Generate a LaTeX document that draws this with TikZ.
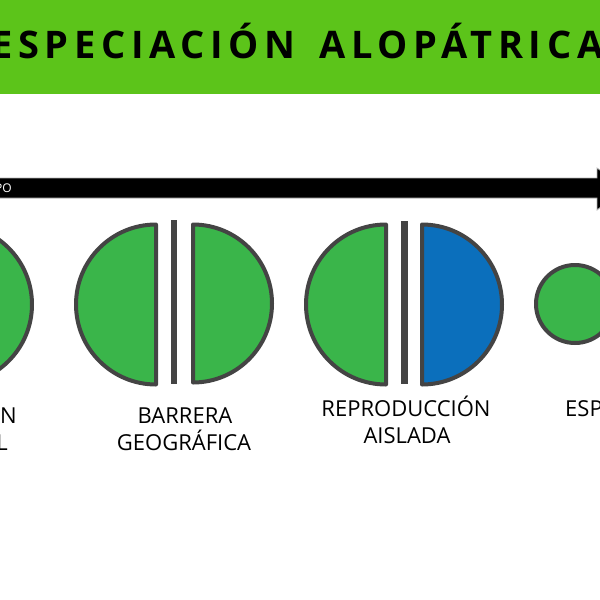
\documentclass[tikz,border=0pt]{standalone}
\usepackage{fontspec}
\setmainfont{Open Sans}
\newfontfamily\titlefont[LetterSpace=15]{Open Sans}
\definecolor{headgreen}{HTML}{5CC41A}
\definecolor{popgreen}{HTML}{3AB54A}
\definecolor{popblue}{HTML}{0B6FBC}
\definecolor{rim}{HTML}{444444}
\tikzset{
  half/.style={draw=rim,line width=4pt,line join=round},
  wall/.style={fill=rim,draw=none},
  stage/.style={font=\fontsize{22}{26}\selectfont,inner sep=0pt}
}
\begin{document}
\begin{tikzpicture}[x=1pt,y=-1pt]
  \useasboundingbox (0,0) rectangle (600,600);
  \clip (0,0) rectangle (600,600);
  % header
  \fill[headgreen] (0,0) rectangle (600,94);
  \node[anchor=base west,inner sep=0pt,font=\titlefont\bfseries\fontsize{38}{44}\selectfont] (title) at (-9,58) {ESPECIACIÓN\hspace{8pt} ALOPÁTRICA};
  % time arrow
  \draw[fill=black,draw=black!30,line width=0.8pt] (-10,178) -- (597,178) -- (597,168) -- (625,188) -- (597,210) -- (597,198) -- (-10,198) -- cycle;
  \node[anchor=base east,inner sep=0pt,text=white,font=\fontsize{12}{14}\selectfont] (tiempo) at (12,192) {PO};
  % initial population
  \draw[half,fill=popgreen] (-48,304.5) circle (80);
  % geographic barrier
  \draw[half,fill=popgreen] (156,384.5) arc (90:270:80) -- cycle;
  \fill[wall] (171,220) rectangle (177,384);
  \draw[half,fill=popgreen] (193,224.5) arc (-90:90:79) -- cycle;
  % reproductive isolation
  \draw[half,fill=popgreen] (386,384.5) arc (90:270:80) -- cycle;
  \fill[wall] (401,221) rectangle (408,384);
  \draw[half,fill=popblue] (422,224.5) arc (-90:90:80) -- cycle;
  % new species
  \draw[half,fill=popgreen] (575,304) circle (39);
  % labels
  \node[stage,anchor=base east] (ini1) at (17,423) {ON};
  \node[stage,anchor=base east] (ini2) at (8,450) {L};
  \node[stage,anchor=base] (bar1) at (185,423) {BARRERA};
  \node[stage,anchor=base] (bar2) at (184,450) {GEOGRÁFICA};
  \node[stage,anchor=base] (rep1) at (406,416) {REPRODUCCIÓN};
  \node[stage,anchor=base] (rep2) at (407,443) {AISLADA};
  \node[stage,anchor=base west] (esp) at (565,416) {ESP};
\end{tikzpicture}
\end{document}
